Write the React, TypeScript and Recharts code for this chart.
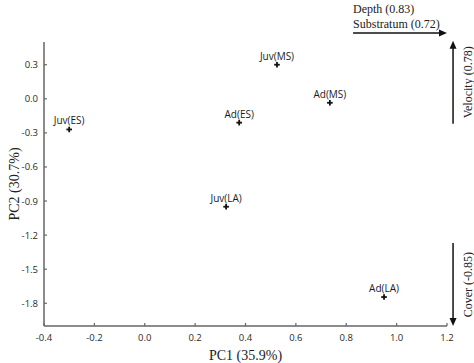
import { ScatterChart, Scatter, XAxis, YAxis, ReferenceLine } from 'recharts';

// PCA scores
const groups = ['Juv(MS)', 'Ad(MS)', 'Juv(ES)', 'Ad(ES)', 'Juv(LA)', 'Ad(LA)'];
const pc1 = [0.525, 0.735, -0.3, 0.375, 0.323, 0.95];
const pc2 = [0.3, -0.035, -0.27, -0.21, -0.95, -1.745];

const xTicks = [-0.4, -0.2, 0.0, 0.2, 0.4, 0.6, 0.8, 1.0, 1.2];
const yTicks = [-1.8, -1.5, -1.2, -0.9, -0.6, -0.3, 0.0, 0.3];

// loading arrows (data coords)
const topArrow = { x1: 0.827, x2: 1.2, y: 0.58, lines: ['Depth (0.83)', 'Substratum (0.72)'] };
const velArrow = { x: 1.224, y1: -0.22, y2: 0.51, text: 'Velocity (0.78)' };
const coverArrow = { x: 1.224, y1: -1.27, y2: -2.0, text: 'Cover (-0.85)' };

const data = groups.map((name, i) => ({ name, x: pc1[i], y: pc2[i] }));

const frame = '#666';
const sans = '"Open Sans", sans-serif';
const serif = '"Liberation Serif", "Times New Roman", serif';

const fmt = (v: number) => (Math.abs(v) < 1e-9 ? '0.0' : v.toFixed(1));

const BottomTick = ({ x, y, payload }: any) => (
    <g>
        <line x1={x} y1={y} x2={x} y2={y - 3} stroke={frame} strokeWidth={1.2} />
        <text x={x} y={y + 15} textAnchor="middle" fontSize={9.5} fontFamily={sans} fill="#2a2a2a">
            {fmt(payload.value)}
        </text>
    </g>
);

const LeftTick = ({ x, y, payload }: any) => (
    <g>
        <line x1={x} y1={y} x2={x + 3} y2={y} stroke={frame} strokeWidth={1.2} />
        <text x={x - 6} y={y + 3.5} textAnchor="end" fontSize={9.5} fontFamily={sans} fill="#2a2a2a">
            {fmt(payload.value)}
        </text>
    </g>
);

const TopTick = ({ x, y }: any) => (
    <line x1={x} y1={y} x2={x} y2={y + 3} stroke={frame} strokeWidth={1.2} />
);

const RightTick = ({ x, y }: any) => (
    <line x1={x} y1={y} x2={x - 3} y2={y} stroke={frame} strokeWidth={1.2} />
);

const Point = ({ cx, cy, payload }: any) => (
    <g>
        <line x1={cx - 2.8} y1={cy} x2={cx + 2.8} y2={cy} stroke="#111" strokeWidth={1.8} />
        <line x1={cx} y1={cy - 2.8} x2={cx} y2={cy + 2.8} stroke="#111" strokeWidth={1.8} />
        <text x={cx} y={cy - 5} textAnchor="middle" fontSize={10} fontFamily={sans} fill="#1a1a1a">
            {payload.name}
        </text>
    </g>
);

const arrowHead = (x1: number, y1: number, x2: number, y2: number) => {
    const a = Math.atan2(y2 - y1, x2 - x1);
    const len = 8;
    const w = 3.5;
    const bx = x2 - len * Math.cos(a);
    const by = y2 - len * Math.sin(a);
    const px = -Math.sin(a) * w;
    const py = Math.cos(a) * w;
    return `${x2},${y2} ${bx + px},${by + py} ${bx - px},${by - py}`;
};

const topShape = ({ x1, y1, x2, y2 }: any) => (
    <g>
        <line x1={x1} y1={y1} x2={x2 - 4} y2={y2} stroke="#111" strokeWidth={1.5} />
        <polygon points={arrowHead(x1, y1, x2, y2)} fill="#111" />
        {topArrow.lines.map((t, i) => (
            <text key={t} x={x1} y={y1 - 20 + i * 15} fontSize={12} fontFamily={serif} fill="#222">
                {t}
            </text>
        ))}
    </g>
);

const sideShape = (label: string) => ({ x1, y1, x2, y2 }: any) => {
    const mid = (y1 + y2) / 2;
    const tx = x1 + 15;
    return (
        <g>
            <line x1={x1} y1={y1} x2={x2} y2={y2 + (y2 < y1 ? 4 : -4)} stroke="#111" strokeWidth={1.5} />
            <polygon points={arrowHead(x1, y1, x2, y2)} fill="#111" />
            <text
                x={tx}
                y={mid}
                transform={`rotate(-90 ${tx} ${mid})`}
                textAnchor="middle"
                dominantBaseline="central"
                fontSize={12}
                fontFamily={serif}
                fill="#222"
            >
                {label}
            </text>
        </g>
    );
};

export default function App() {
    return (
        <div style={{ position: 'absolute', left: 0, top: 0, width: 474, height: 363, background: '#fff' }}>
            <ScatterChart width={474} height={363} margin={{ top: 42, right: 27, left: 0, bottom: 0 }}>
                <XAxis
                    xAxisId="b"
                    type="number"
                    dataKey="x"
                    domain={[-0.4, 1.2]}
                    ticks={xTicks}
                    allowDataOverflow
                    height={37}
                    tickSize={0}
                    tickMargin={0}
                    tickLine={false}
                    axisLine={{ stroke: frame, strokeWidth: 1.5 }}
                    tick={<BottomTick />}
                    label={{
                        value: 'PC1 (35.9%)',
                        position: 'insideBottom',
                        offset: 3,
                        style: { fontFamily: serif, fontSize: 14, fill: '#222' },
                    }}
                />
                <XAxis
                    xAxisId="t"
                    orientation="top"
                    type="number"
                    dataKey="x"
                    domain={[-0.4, 1.2]}
                    ticks={xTicks}
                    allowDataOverflow
                    height={0}
                    tickSize={0}
                    tickMargin={0}
                    tickLine={false}
                    axisLine={{ stroke: frame, strokeWidth: 1.5 }}
                    tick={<TopTick />}
                />
                <YAxis
                    yAxisId="l"
                    type="number"
                    dataKey="y"
                    domain={[-2.0, 0.5]}
                    ticks={yTicks}
                    allowDataOverflow
                    width={44}
                    tickSize={0}
                    tickMargin={0}
                    tickLine={false}
                    axisLine={{ stroke: frame, strokeWidth: 1.5 }}
                    tick={<LeftTick />}
                    label={{
                        value: 'PC2 (30.7%)',
                        angle: -90,
                        position: 'center',
                        dx: -8,
                        style: { fontFamily: serif, fontSize: 14, fill: '#222' },
                    }}
                />
                <YAxis
                    yAxisId="r"
                    orientation="right"
                    type="number"
                    dataKey="y"
                    domain={[-2.0, 0.5]}
                    ticks={yTicks}
                    allowDataOverflow
                    width={0}
                    tickSize={0}
                    tickMargin={0}
                    tickLine={false}
                    axisLine={{ stroke: frame, strokeWidth: 1.5 }}
                    tick={<RightTick />}
                />
                <Scatter
                    xAxisId="b"
                    yAxisId="l"
                    data={data}
                    shape={Point}
                    isAnimationActive={false}
                />
                <ReferenceLine
                    xAxisId="b"
                    yAxisId="l"
                    ifOverflow="visible"
                    segment={[
                        { x: topArrow.x1, y: topArrow.y },
                        { x: topArrow.x2, y: topArrow.y },
                    ]}
                    shape={topShape}
                />
                <ReferenceLine
                    xAxisId="b"
                    yAxisId="l"
                    ifOverflow="visible"
                    segment={[
                        { x: velArrow.x, y: velArrow.y1 },
                        { x: velArrow.x, y: velArrow.y2 },
                    ]}
                    shape={sideShape(velArrow.text)}
                />
                <ReferenceLine
                    xAxisId="b"
                    yAxisId="l"
                    ifOverflow="visible"
                    segment={[
                        { x: coverArrow.x, y: coverArrow.y1 },
                        { x: coverArrow.x, y: coverArrow.y2 },
                    ]}
                    shape={sideShape(coverArrow.text)}
                />
            </ScatterChart>
        </div>
    );
}
